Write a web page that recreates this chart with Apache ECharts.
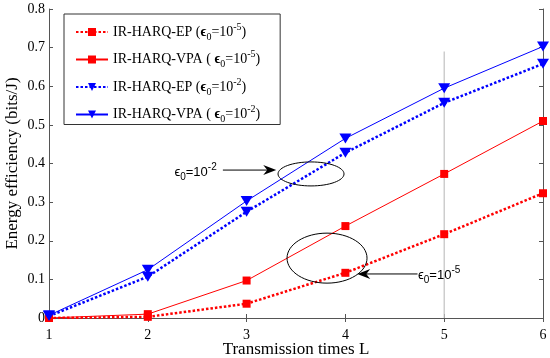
<!DOCTYPE html>
<html>
<head>
<meta charset="utf-8">
<script src="https://cdn.jsdelivr.net/npm/echarts@6/dist/echarts.min.js"></script>
<style>html,body{margin:0;padding:0;background:#fff;}#c{width:550px;height:358px;}</style>
</head>
<body>
<div id="c"></div>
<script>
var xs = [1, 2, 3, 4, 5, 6];
var epLow = [0, 0.003, 0.037, 0.117, 0.217, 0.323];
var vpaLow = [0, 0.010, 0.097, 0.238, 0.373, 0.510];
var epHigh = [0.005, 0.107, 0.275, 0.428, 0.557, 0.658];
var vpaHigh = [0.007, 0.125, 0.303, 0.465, 0.595, 0.703];
var guideX = [5, 5];
var guideY = [0, 0.69];
var seriesNames = ['IR-HARQ-EP (ϵ0=10-5)', 'IR-HARQ-VPA ( ϵ0=10-5)', 'IR-HARQ-EP (ϵ0=10-2)', 'IR-HARQ-VPA ( ϵ0=10-2)'];
var legendRich = {
  'IR-HARQ-EP (ϵ0=10-5)': 'IR-HARQ-EP ({e|ϵ}{sub|0}{t|=10}{sup|-5}{t|)}',
  'IR-HARQ-VPA ( ϵ0=10-5)': 'IR-HARQ-VPA ( {e|ϵ}{sub|0}{t|=10}{sup|-5}{t|)}',
  'IR-HARQ-EP (ϵ0=10-2)': 'IR-HARQ-EP ({e|ϵ}{sub|0}{t|=10}{sup|-2}{t|)}',
  'IR-HARQ-VPA ( ϵ0=10-2)': 'IR-HARQ-VPA ( {e|ϵ}{sub|0}{t|=10}{sup|-2}{t|)}'
};

function pairs(ys) { return xs.map(function (x, i) { return [x, ys[i]]; }); }

var serif = 'Liberation Serif';
var sans = 'Liberation Sans';
var RED = '#ff0000', BLUE = '#0000ff';

function mk(name, ys, color, dotted, sym) {
  return {
    name: name, type: 'line', data: pairs(ys),
    symbol: sym === 'sq' ? 'rect' : 'triangle',
    symbolSize: sym === 'sq' ? 8 : [12, 10],
    symbolRotate: sym === 'sq' ? 0 : 180,
    showSymbol: true,
    lineStyle: { color: color, width: dotted ? 2.5 : 1, type: dotted ? [2.5, 2] : 'solid' },
    itemStyle: { color: color },
    animation: false, z: 3
  };
}

var chart = echarts.init(document.getElementById('c'), null, { renderer: 'canvas' });

var richText = {
  t: { fontFamily: serif, fontSize: 14, color: '#000', verticalAlign: 'middle', lineHeight: 20 },
  e: { fontFamily: serif, fontSize: 14, color: '#000', fontWeight: 'bold', verticalAlign: 'middle', lineHeight: 20 },
  sub: { fontFamily: serif, fontSize: 10, color: '#000', verticalAlign: 'bottom', lineHeight: 20 },
  sup: { fontFamily: serif, fontSize: 10, color: '#000', verticalAlign: 'top', lineHeight: 20 }
};
var annRich = {
  t: { fontFamily: sans, fontSize: 13, color: '#000', verticalAlign: 'middle', lineHeight: 20 },
  sub: { fontFamily: sans, fontSize: 10, color: '#000', verticalAlign: 'bottom', lineHeight: 20 },
  sup: { fontFamily: sans, fontSize: 10, color: '#000', verticalAlign: 'top', lineHeight: 20 }
};

var axisCommon = {
  axisLine: { show: true, lineStyle: { color: '#555', width: 1 } },
  axisTick: { show: true, inside: true, length: 4, lineStyle: { color: '#555' } },
  splitLine: { show: false }
};

chart.setOption({
  animation: false,
  backgroundColor: '#fff',
  grid: { left: 49, right: 7, top: 9, bottom: 40, containLabel: false, outerBoundsMode: 'none' },
  legend: {
    data: seriesNames,
    orient: 'vertical', left: 64, top: 14,
    padding: [8, 20, 0, 11], itemGap: 7.5,
    itemWidth: 32, itemHeight: 10,
    backgroundColor: '#fff', borderColor: '#333', borderWidth: 1,
    formatter: function (n) { return legendRich[n]; },
    textStyle: { fontFamily: serif, fontSize: 14, color: '#000', rich: richText }
  },
  xAxis: [
    Object.assign({ type: 'value', min: 1, max: 6, interval: 1, position: 'bottom',
      name: 'Transmission times L', nameLocation: 'middle', nameGap: 23, nameMoveOverlap: false,
      nameTextStyle: { fontFamily: serif, fontSize: 17, color: '#000' },
      axisLabel: { fontFamily: serif, fontSize: 14, color: '#000', margin: 10 } }, axisCommon),
    Object.assign({ type: 'value', min: 1, max: 6, interval: 1, position: 'top',
      axisLabel: { show: false } }, axisCommon)
  ],
  yAxis: [
    Object.assign({ type: 'value', min: 0, max: 0.8, interval: 0.1, position: 'left',
      name: 'Energy efficiency (bits/J)', nameLocation: 'middle', nameGap: 28, nameMoveOverlap: false,
      nameTextStyle: { fontFamily: serif, fontSize: 17, color: '#000' },
      axisLabel: { fontFamily: serif, fontSize: 14, color: '#000', margin: 4,
        formatter: function (v) { return v === 0 ? '0' : v.toFixed(1); } } }, axisCommon),
    Object.assign({ type: 'value', min: 0, max: 0.8, interval: 0.1, position: 'right',
      axisLabel: { show: false } }, axisCommon)
  ],
  series: [
    { type: 'line', data: guideX.map(function (x, i) { return [x, guideY[i]]; }), symbol: 'none',
      lineStyle: { color: '#c0c0c0', width: 1.2 }, z: 1, silent: true, legendHoverLink: false },
    mk(seriesNames[0], epLow, RED, true, 'sq'),
    mk(seriesNames[1], vpaLow, RED, false, 'sq'),
    mk(seriesNames[2], epHigh, BLUE, true, 'tri'),
    mk(seriesNames[3], vpaHigh, BLUE, false, 'tri')
  ]
});

// annotations (placed by data coordinates)
var ann1 = { cx: 3.652, cy: 0.373, rx: 33, ry: 12, from: [2.76, 0.383], to: [3.3, 0.383], label: [2.27, 0.377] };
var ann2 = { cx: 3.814, cy: 0.155, rx: 40, ry: 25, from: [4.73, 0.114], to: [4.12, 0.114], label: [4.735, 0.110] };

function px(p) { return chart.convertToPixel({ xAxisIndex: 0, yAxisIndex: 0 }, p); }
function arrowHead(tip, dir) {
  var L = 13, W = 5, notch = 4;
  var x = tip[0], y = tip[1];
  return [[x, y], [x - dir * L, y - W], [x - dir * (L - notch), y], [x - dir * L, y + W]];
}
function buildAnn(a, labelText, align) {
  var c = px([a.cx, a.cy]);
  var f = px(a.from), t = px(a.to), l = px(a.label);
  var dir = t[0] > f[0] ? 1 : -1;
  return [
    { type: 'ellipse', shape: { cx: c[0], cy: c[1], rx: a.rx, ry: a.ry }, style: { fill: null, stroke: '#000', lineWidth: 1 }, z: 10 },
    { type: 'line', shape: { x1: f[0], y1: f[1], x2: t[0] - dir * 8, y2: t[1] }, style: { stroke: '#000', lineWidth: 1 }, z: 10 },
    { type: 'polygon', shape: { points: arrowHead(t, dir) }, style: { fill: '#000' }, z: 10 },
    { type: 'text', x: l[0], y: l[1], style: { text: labelText, rich: annRich, align: align, verticalAlign: 'middle', font: '13px ' + sans }, z: 10 }
  ];
}
var g = [].concat(
  buildAnn(ann1, '{t|ϵ}{sub|0}{t|=10}{sup|-2}', 'left'),
  buildAnn(ann2, '{t|ϵ}{sub|0}{t|=10}{sup|-5}', 'left')
);
chart.setOption({ graphic: g });
</script>
</body>
</html>
